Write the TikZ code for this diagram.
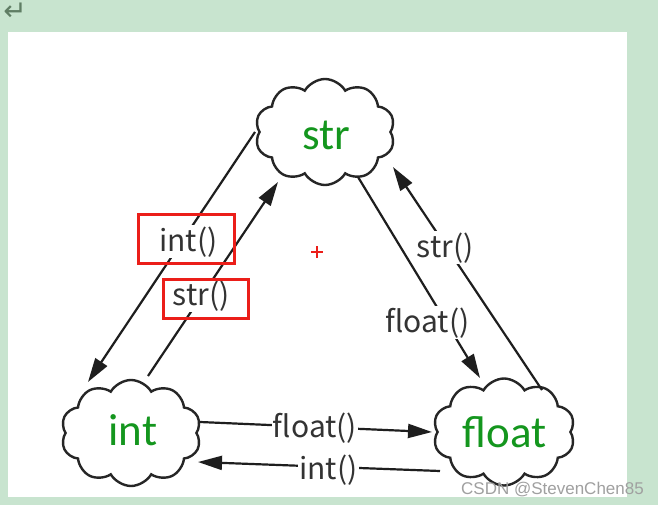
\documentclass[tikz,border=0pt]{standalone}
\usepackage{fontspec}
\setmainfont{Carlito}
\newfontfamily\labelfont{Noto Sans CJK SC}
\newfontfamily\symfont{DejaVu Sans}
\newfontfamily\wmfont{Liberation Sans}
\usetikzlibrary{shapes.symbols,arrows.meta,calc}
\definecolor{bggreen}{RGB}{200,228,207}
\definecolor{txtgreen}{RGB}{20,150,30}
\definecolor{boxred}{RGB}{235,30,25}
\definecolor{linegray}{RGB}{30,30,30}
\definecolor{retgray}{RGB}{95,125,100}
\definecolor{wmgray}{RGB}{160,160,160}
\begin{document}
\begin{tikzpicture}[x=1pt,y=-1pt,
 cloudbox/.style={cloud, cloud puffs=10, cloud puff arc=120, draw=black!85, line width=2.4pt, fill=white, minimum width=140pt, minimum height=106pt, inner sep=0pt},
 cloudtext/.style={text=txtgreen, font=\fontsize{45}{50}\selectfont, inner sep=0pt, anchor=base},
 conn/.style={draw=linegray, line width=2.2pt, -{Triangle[length=24pt,width=14pt]}},
 lbl/.style={fill=white, text=black!80, font=\labelfont\fontsize{30}{34}\selectfont, inner sep=1pt, anchor=base},
 redbox/.style={draw=boxred, line width=3pt, rectangle, inner sep=0pt},
]
\useasboundingbox (0,0) rectangle (658,505);
\fill[bggreen] (0,0) rectangle (658,505);
\fill[white] (8,32) rectangle (627,497);
\node[text=retgray, font=\symfont\fontsize{28}{28}\selectfont, inner sep=0pt] (ret) at (15,12) {↵};

% clouds
\node[cloudbox] (str) at (325,132) {};
\node[cloudbox] (int) at (131,433) {};
\node[cloudbox, minimum width=142pt, minimum height=107pt] (float) at (504,432) {};
\node[cloudtext] (strt) at (326,150) {str};
\node[cloudtext] (intt) at (133,445) {int};
\node[cloudtext] (floatt) at (504.5,447) {float};

% connectors
\draw[conn] ($(str)+(-70,0)$) -- ($(int)+(-43,-51)$);
\draw[conn] ($(int)+(17,-57)$) -- ($(str)+(-47,50)$);
\draw[conn] ($(str)+(33,45)$) -- ($(float)+(-24,-54)$);
\draw[conn] ($(float)+(38,-42)$) -- ($(str)+(68,35)$);
\draw[conn] ($(int)+(69,-11)$) -- ($(float)+(-72,0)$);
\draw[conn] ($(float)+(-64,39)$) -- ($(int)+(67,29)$);

% labels
\node[lbl] (l1) at (188.5,251) {int()};
\node[lbl] (l2) at (201,305) {str()};
\node[lbl] (l3) at (427.5,332) {float()};
\node[lbl] (l4) at (445,257) {str()};
\node[lbl] (l5) at (315,437) {float()};
\node[lbl] (l6) at (328.5,479) {int()};

% red boxes
\node[redbox, minimum width=96pt, minimum height=49pt] (b1) at (186.5,239) {};
\node[redbox, minimum width=85pt, minimum height=39pt] (b2) at (206,299) {};

% red plus
\coordinate (plus) at (317,252);
\draw[boxred, line width=2pt] ($(plus)+(-6,0)$) -- ($(plus)+(6,0)$);
\draw[boxred, line width=2pt] ($(plus)+(0,-6)$) -- ($(plus)+(0,6)$);

% watermark
\node[text=wmgray, font=\wmfont\fontsize{17}{17}\selectfont, anchor=base, inner sep=0pt] (wm) at (552.5,494) {CSDN @StevenChen85};
\end{tikzpicture}
\end{document}
